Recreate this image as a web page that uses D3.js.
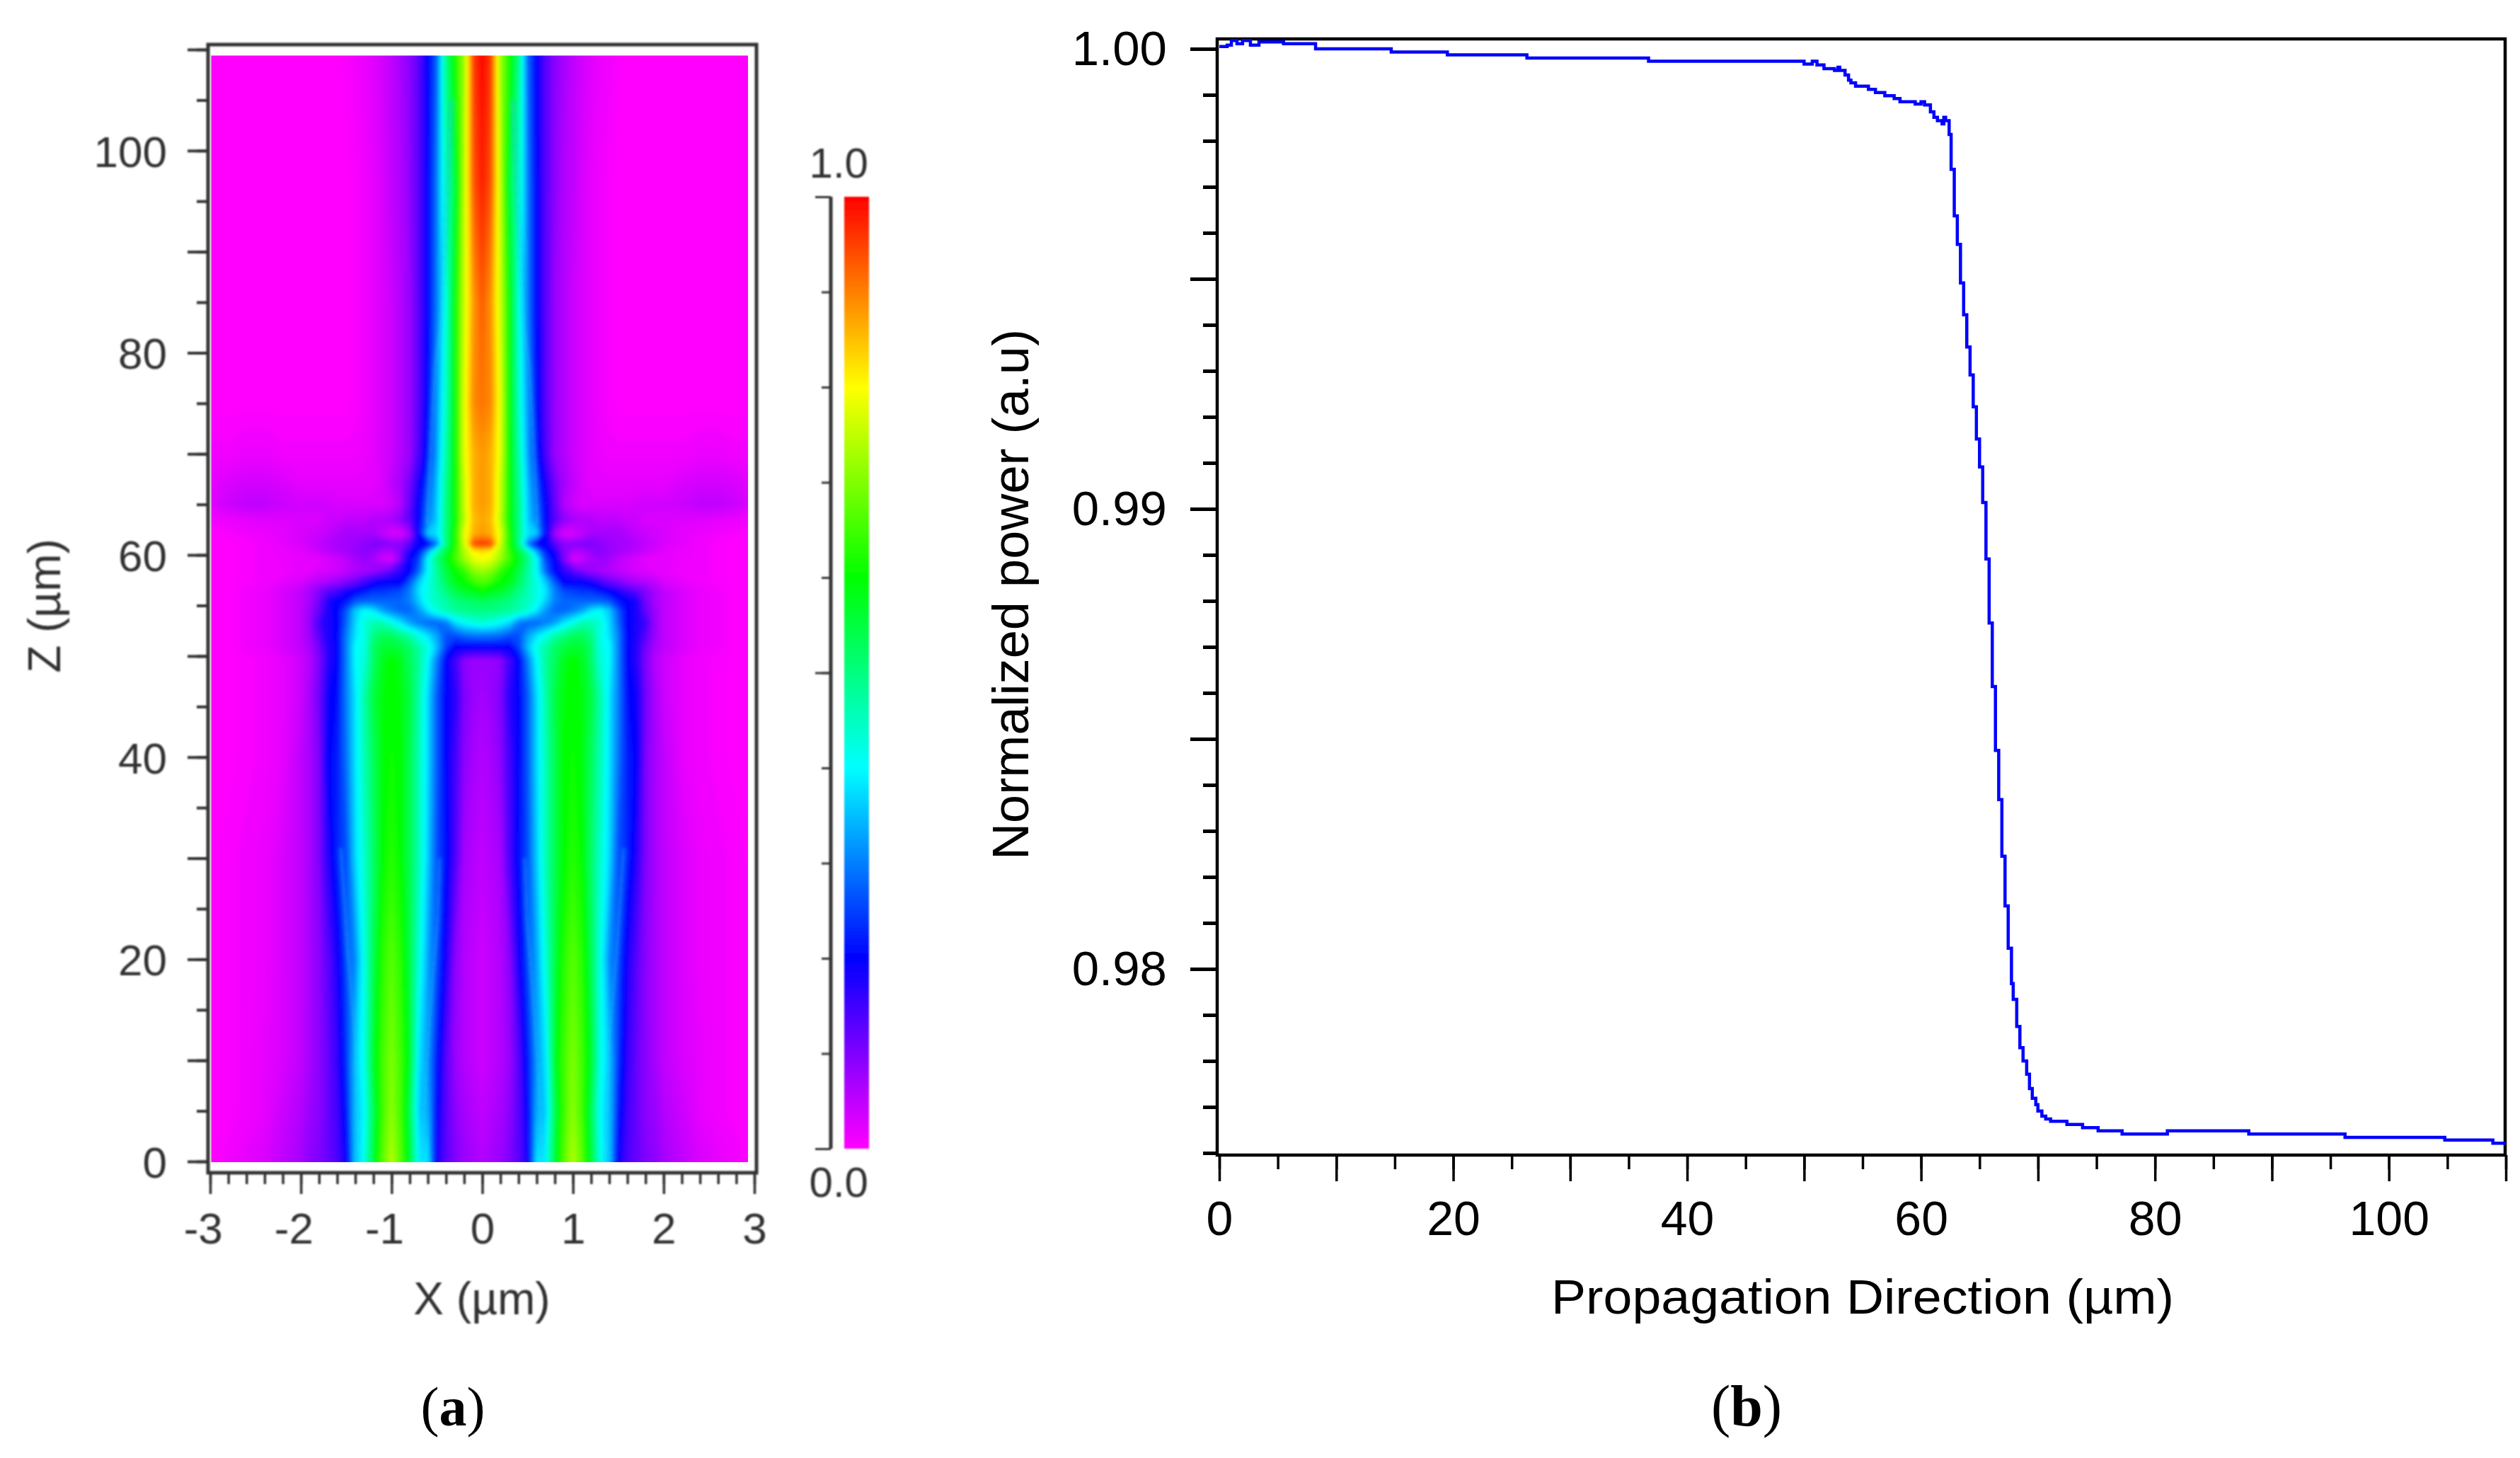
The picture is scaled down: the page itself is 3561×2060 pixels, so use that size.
<!DOCTYPE html>
<html>
<head>
<meta charset="utf-8">
<script src="https://cdn.jsdelivr.net/npm/d3@7"></script>
<style>
  body { margin: 0; background: #fff; }
  text { font-family: "Liberation Sans", Arial, sans-serif; }
  .caption { font-family: "Liberation Serif", serif; font-size: 78px; fill: #000; }
</style>
</head>
<body>
<svg width="3561" height="2060"></svg>
<script>
// panel (a): field, right half only (the picture is mirrored about x = 0)
const halfX = [0, .1, .2, .3, .4, .5, .6, .7, .8, .9, 1, 1.1, 1.2, 1.3, 1.4, 1.5, 1.6, 1.7, 1.8, 1.9, 2, 2.2, 2.4, 2.6, 2.8, 3]
const zLevels = [0, 5, 10, 20, 30, 40, 46, 49.6, 50.9, 52, 53.3, 54.5, 55.4, 56.4, 57.3, 58.4, 59.6, 60.3, 61.1, 62.1, 63.5, 65, 67, 70, 75, 85, 97, 110]
const fieldRows = [
  [.06,.07,.08,.10,.13,.18,.38,.40,.56,.67,.74,.67,.56,.42,.36,.19,.14,.12,.10,.09,.07,.05,.03,.02,.01,0],
  [.05,.06,.07,.09,.13,.20,.34,.36,.54,.65,.71,.65,.54,.40,.36,.22,.15,.12,.09,.08,.06,.04,.02,.01,.005,0],
  [.04,.05,.06,.08,.13,.22,.32,.38,.57,.65,.70,.65,.57,.42,.36,.24,.16,.12,.09,.07,.05,.03,.02,.01,.005,0],
  [.04,.05,.06,.09,.18,.26,.33,.43,.55,.63,.67,.63,.54,.42,.31,.26,.18,.13,.09,.07,.05,.03,.015,.01,.005,0],
  [.05,.06,.07,.14,.21,.26,.36,.46,.54,.60,.63,.60,.52,.44,.37,.26,.23,.17,.10,.07,.05,.03,.015,.01,.005,0],
  [.06,.07,.09,.15,.20,.27,.37,.46,.54,.60,.61,.59,.53,.46,.38,.29,.22,.20,.10,.07,.05,.02,.01,.005,0,0],
  [.07,.08,.10,.17,.20,.27,.37,.47,.55,.59,.60,.59,.55,.47,.38,.30,.21,.19,.11,.07,.04,.02,.01,.005,0,0],
  [.08,.08,.09,.15,.20,.30,.40,.48,.53,.58,.60,.58,.52,.43,.40,.30,.20,.17,.10,.06,.04,.02,.01,.005,0,0],
  [.20,.20,.20,.20,.25,.35,.42,.47,.52,.55,.56,.56,.52,.42,.40,.30,.20,.17,.11,.07,.05,.03,.015,.01,0,0],
  [.29,.29,.28,.26,.26,.33,.38,.42,.47,.50,.53,.53,.50,.42,.38,.30,.20,.18,.13,.08,.05,.03,.015,.01,0,0],
  [.43,.42,.40,.37,.30,.28,.28,.30,.33,.38,.42,.46,.46,.43,.37,.28,.20,.18,.15,.08,.05,.03,.015,.01,0,0],
  [.50,.50,.49,.48,.46,.43,.38,.32,.28,.28,.30,.33,.38,.40,.36,.27,.20,.18,.12,.08,.05,.03,.015,.01,0,0],
  [.53,.52,.51,.50,.47,.45,.42,.36,.30,.28,.28,.28,.28,.28,.27,.22,.20,.18,.11,.07,.05,.03,.015,.01,0,0],
  [.60,.58,.57,.54,.50,.46,.42,.38,.30,.26,.25,.24,.24,.22,.20,.18,.15,.13,.10,.07,.05,.03,.015,.01,0,0],
  [.66,.64,.60,.58,.53,.47,.42,.36,.27,.20,.20,.20,.18,.15,.12,.10,.08,.07,.06,.05,.03,.02,.01,.005,0,0],
  [.72,.70,.64,.60,.55,.48,.40,.28,.20,.17,.13,.10,.08,.07,.06,.05,.04,.03,.03,.02,.02,.01,.01,.005,0,0],
  [.80,.78,.72,.65,.58,.50,.40,.25,.20,.10,.03,.04,.07,.08,.07,.05,.04,.03,.02,.02,.02,.015,.01,.005,0,0],
  [.82,.80,.74,.64,.55,.46,.34,.22,.18,.10,.06,.06,.08,.09,.08,.07,.06,.05,.04,.03,.02,.015,.01,.005,0,0],
  [.96,.94,.76,.62,.50,.30,.20,.20,.13,.09,.09,.10,.10,.09,.08,.07,.07,.06,.05,.04,.03,.02,.01,.005,0,0],
  [.88,.86,.78,.62,.50,.38,.36,.20,.07,.03,.03,.05,.07,.07,.07,.07,.06,.05,.04,.035,.03,.02,.015,.01,.005,0],
  [.87,.85,.75,.60,.50,.36,.30,.20,.13,.09,.07,.06,.06,.05,.05,.05,.04,.04,.03,.03,.03,.025,.025,.02,.015,.01],
  [.88,.86,.76,.60,.50,.36,.28,.20,.12,.06,.04,.03,.03,.03,.03,.03,.03,.035,.035,.035,.035,.04,.05,.05,.04,.025],
  [.88,.86,.76,.60,.49,.35,.26,.18,.11,.07,.05,.03,.02,.02,.02,.02,.02,.02,.02,.02,.02,.03,.035,.035,.03,.02],
  [.88,.86,.78,.60,.47,.33,.22,.14,.08,.06,.04,.03,.02,.015,.01,.01,.01,.01,.01,.01,.01,.01,.015,.015,.01,.01],
  [.91,.89,.78,.60,.45,.32,.21,.13,.08,.06,.04,.03,.02,.01,.005,0,0,0,0,0,0,0,0,0,0,0],
  [.93,.88,.76,.60,.43,.30,.20,.13,.08,.06,.04,.03,.02,.01,.005,0,0,0,0,0,0,0,0,0,0,0],
  [.98,.93,.75,.55,.46,.30,.20,.13,.09,.06,.05,.03,.02,.01,.005,0,0,0,0,0,0,0,0,0,0,0],
  [1,.95,.72,.62,.50,.28,.20,.13,.09,.07,.05,.035,.025,.015,.01,.005,0,0,0,0,0,0,0,0,0,0]
]
// thin sidewall lines in the field, [z, |x|]
const sideLines = [
  [[0, .67], [9.3, .61], [18, .545], [24, .49], [30, .47]],
  [[0, 1.36], [12.8, 1.41], [21.5, 1.49], [31, 1.56]],
  [[63.1, .61], [72.2, .56], [78.7, .52], [82.2, .47], [95, .39], [105, .34]]
]
const rampStops = [0, .2, .4, .6, .8, 1]
const rampColors = ["#ff00ff", "#0000ff", "#00ffff", "#00ff00", "#ffff00", "#ff0000"]

// panel (b): stepped power curve
const lossX = [0, .67, 1.03, 1.51, 1.99, 2.66, 3.39, 5.49, 8.23, 14.7, 19.5, 26.3, 36.7, 50, 50.7, 51.1, 51.7, 52.6, 52.9, 53.05, 53.5, 53.8, 54, 54.4, 55.5, 56.1, 56.9, 57.7, 58.2, 59.5, 60, 60.3, 60.8, 61.1, 61.4, 61.8, 61.95, 62.1, 62.4, 62.57, 62.84, 63.1, 63.37, 63.64, 63.91, 64.19, 64.46, 64.73, 65, 65.27, 65.55, 65.82, 66.09, 66.36, 66.64, 66.91, 67.18, 67.45, 67.73, 67.88, 68.18, 68.45, 68.72, 69.03, 69.27, 69.51, 69.81, 69.99, 70.33, 70.66, 71.08, 72.47, 73.81, 75.14, 77.19, 81.06, 88.02, 96.25, 104.78, 108.89, 110]
const lossY = [1.00005, 1.00008, 1.00018, 1.00011, 1.00018, 1.00008, 1.00015, 1.00011, 1.0, .99993, .99987, .9998, .99973, .99967, .99973, .99965, .99957, .99953, .9996, .99953, .99943, .99932, .99926, .99919, .99912, .99905, .99898, .99892, .99885, .9988, .99885, .99878, .99863, .99851, .99844, .99837, .99851, .99844, .99814, .99738, .99637, .99575, .99491, .99422, .99352, .99291, .99222, .99152, .99091, .99014, .98891, .98752, .98614, .98475, .98368, .98245, .98137, .98045, .97968, .97934, .97875, .97829, .978, .97771, .9774, .97719, .97705, .97691, .9768, .97674, .97669, .97662, .97655, .97648, .97641, .97648, .97641, .97634, .97628, .97621, .97621]

const xFieldMajor = [-3, -2, -1, 0, 1, 2, 3]
const zLabels = [0, 20, 40, 60, 80, 100]
const powerLabels = [1, .99, .98]
const distLabels = [0, 20, 40, 60, 80, 100]

const svg = d3.select("svg")
const defs = svg.append("defs")

const soft = defs.append("filter").attr("id", "soft")
  .attr("filterUnits", "userSpaceOnUse")
  .attr("x", 0).attr("y", 0).attr("width", 3561).attr("height", 2060)
soft.append("feGaussianBlur").attr("stdDeviation", 1)

const heatBlur = defs.append("filter").attr("id", "heatBlur")
  .attr("filterUnits", "userSpaceOnUse")
  .attr("x", 0).attr("y", 0).attr("width", 3561).attr("height", 2060)
heatBlur.append("feGaussianBlur").attr("stdDeviation", 2.5)

// panel a
const x = d3.scaleLinear().domain([-3, 3]).range([297, 1066])
const z = d3.scaleLinear().domain([0, 110]).range([1641, 70])
const color = d3.scaleLinear().domain(rampStops).range(rampColors)

const columns = halfX.slice(1).map(d => -d).reverse().concat(halfX)
const values = []
fieldRows.forEach(row => {
  row.slice(1).reverse().concat(row).forEach(v => values.push(v))
})

// d3.contours puts sample i at i + .5, rows and columns are not evenly spaced
const colOf = d3.scaleLinear().domain(d3.range(columns.length)).range(columns)
const rowOf = d3.scaleLinear().domain(d3.range(zLevels.length)).range(zLevels)
const gridPath = d3.geoPath(d3.geoTransform({
  point: function(cx, cy) {
    this.stream.point(x(colOf(cx - .5)), z(rowOf(cy - .5)))
  }
}))

const levels = d3.range(.0025, 1, .005)
const contours = d3.contours()
  .size([columns.length, zLevels.length])
  .thresholds(levels)(values)

defs.append("clipPath").attr("id", "heatClip")
  .append("rect")
  .attr("x", 298.5).attr("y", 78.6)
  .attr("width", 1057 - 298.5).attr("height", 1642 - 78.6)

const heat = svg.append("g").attr("clip-path", "url(#heatClip)")
  .append("g").attr("filter", "url(#heatBlur)")

heat.append("rect")
  .attr("x", 270).attr("y", 50).attr("width", 820).attr("height", 1620)
  .attr("fill", color(0))

heat.selectAll("path.band").data(contours).enter().append("path")
  .attr("class", "band")
  .attr("d", gridPath)
  .attr("fill", d => color(d.value + .0025))

const sideLine = d3.line().x(d => x(d[1])).y(d => z(d[0]))
const sideLineL = d3.line().x(d => x(-d[1])).y(d => z(d[0]))
sideLines.forEach(l => {
  [sideLine, sideLineL].forEach(gen => {
    heat.append("path").attr("d", gen(l))
      .attr("fill", "none")
      .attr("stroke", "#18b0ff")
      .attr("stroke-opacity", .4)
      .attr("stroke-width", 5)
  })
})

const gridA = svg.append("g").attr("filter", "url(#soft)").attr("color", "#333")

gridA.append("rect")
  .attr("x", 294).attr("y", 63)
  .attr("width", 1069 - 294).attr("height", 1657 - 63)
  .attr("fill", "none").attr("stroke", "#333").attr("stroke-width", 5)

function styleAxis(g, size, color, width) {
  g.select(".domain").remove()
  g.selectAll(".tick line").attr("stroke", color).attr("stroke-width", width)
  g.selectAll("text")
    .attr("font-size", size)
    .attr("fill", color)
    .attr("font-family", '"Liberation Sans", Arial, sans-serif')
}

// x ticks sit under the frame, shift by the frame offset
const axXMinor = gridA.append("g").attr("transform", "translate(0,1657)")
  .call(d3.axisBottom(x).tickValues(d3.range(-3, 3.01, .2)).tickSize(16).tickFormat(""))
styleAxis(axXMinor, 62, "#333", 3.5)
const axXMajor = gridA.append("g").attr("transform", "translate(0,1657)")
  .call(d3.axisBottom(x).tickValues(xFieldMajor).tickSize(30).tickPadding(26).tickFormat(d3.format("d")))
styleAxis(axXMajor, 62, "#333", 3.5)
axXMajor.selectAll("text")
  .text(d => d < 0 ? "-" + Math.abs(d) : d)
  .attr("dx", d => d < 0 ? "-.166em" : 0)

const axZMinor = gridA.append("g").attr("transform", "translate(294,0)")
  .call(d3.axisLeft(z).tickValues(d3.range(0, 111, 5)).tickSize(16).tickFormat(""))
styleAxis(axZMinor, 62, "#333", 4)
const axZMajor = gridA.append("g").attr("transform", "translate(294,0)")
  .call(d3.axisLeft(z).tickValues(d3.range(0, 111, 10)).tickSize(29).tickPadding(29)
    .tickFormat(d => zLabels.includes(d) ? d : ""))
styleAxis(axZMajor, 62, "#333", 4)
axZMajor.selectAll("text").attr("dy", "0.36em")

gridA.append("text")
  .attr("transform", "translate(85,856) rotate(-90)")
  .attr("text-anchor", "middle")
  .attr("font-size", 64).attr("fill", "#333")
  .text("Z (µm)")

gridA.append("text")
  .attr("x", 681).attr("y", 1857)
  .attr("text-anchor", "middle")
  .attr("font-size", 64).attr("fill", "#333")
  .text("X (µm)")

// colour bar
const barScale = d3.scaleLinear().domain([0, 1]).range([1623, 278])
const grad = defs.append("linearGradient").attr("id", "ramp")
  .attr("x1", 0).attr("y1", 1).attr("x2", 0).attr("y2", 0)
grad.selectAll("stop").data(rampStops).enter().append("stop")
  .attr("offset", d => d)
  .attr("stop-color", d => color(d))

gridA.append("rect")
  .attr("x", 1193).attr("y", barScale(1))
  .attr("width", 35).attr("height", barScale(0) - barScale(1))
  .attr("fill", "url(#ramp)")

const axBarMinor = gridA.append("g").attr("transform", "translate(1174,0)")
  .call(d3.axisLeft(barScale).tickValues(d3.range(0, 1.01, .1)).tickSize(13).tickFormat(""))
styleAxis(axBarMinor, 60, "#333", 3)
const axBarMajor = gridA.append("g").attr("transform", "translate(1174,0)")
  .call(d3.axisLeft(barScale).tickValues([0, .5, 1]).tickSize(22).tickFormat(""))
styleAxis(axBarMajor, 60, "#333", 3)
gridA.append("line")
  .attr("x1", 1174).attr("x2", 1174)
  .attr("y1", barScale(1)).attr("y2", barScale(0))
  .attr("stroke", "#333").attr("stroke-width", 5)

gridA.append("text").attr("x", 1227).attr("y", 251)
  .attr("text-anchor", "end").attr("font-size", 60).attr("fill", "#333").text("1.0")
gridA.append("text").attr("x", 1227).attr("y", 1691)
  .attr("text-anchor", "end").attr("font-size", 60).attr("fill", "#333").text("0.0")

svg.append("text").attr("class", "caption")
  .attr("x", 640).attr("y", 2014).attr("text-anchor", "middle")
  .html('(<tspan font-weight="bold">a</tspan>)')

// panel b
const dist = d3.scaleLinear().domain([0, 110]).range([1723, 3541])
const power = d3.scaleLinear().domain([.976, 1]).range([1629, 69])

const gb = svg.append("g")

const axDistMinor = gb.append("g").attr("transform", "translate(0,1632)")
  .call(d3.axisBottom(dist).tickValues(d3.range(0, 111, 5)).tickSize(20).tickFormat(""))
styleAxis(axDistMinor, 68, "#000", 3.5)
const axDistMajor = gb.append("g").attr("transform", "translate(0,1632)")
  .call(d3.axisBottom(dist).tickValues(d3.range(0, 111, 10)).tickSize(37).tickPadding(28)
    .tickFormat(d => distLabels.includes(d) ? d : ""))
styleAxis(axDistMajor, 68, "#000", 3.5)

const axPowerMinor = gb.append("g").attr("transform", "translate(1720,0)")
  .call(d3.axisLeft(power).tickValues(d3.range(24, -1, -1).map(i => 1 - i * .001)).tickSize(20).tickFormat(""))
styleAxis(axPowerMinor, 69, "#000", 5)
const axPowerMajor = gb.append("g").attr("transform", "translate(1720,0)")
  .call(d3.axisLeft(power).tickValues([1, .995, .99, .985, .98]).tickSize(38).tickPadding(33)
    .tickFormat(d => powerLabels.includes(d) ? d3.format(".2f")(d) : ""))
styleAxis(axPowerMajor, 69, "#000", 5)

gb.append("path")
  .attr("d", "M1720,55H3540V1632H1720Z")
  .attr("fill", "none").attr("stroke", "#000").attr("stroke-width", 4.5)

const lossLine = d3.line()
  .x((d, i) => dist(lossX[i]))
  .y(d => power(d))
  .curve(d3.curveStepAfter)

gb.append("path")
  .attr("d", lossLine(lossY))
  .attr("fill", "none")
  .attr("stroke", "#0000ff")
  .attr("stroke-width", 4.5)

gb.append("text")
  .attr("x", 2632).attr("y", 1856)
  .attr("text-anchor", "middle")
  .attr("font-size", 69)
  .attr("textLength", 880).attr("lengthAdjust", "spacingAndGlyphs")
  .text("Propagation Direction (µm)")

gb.append("text")
  .attr("transform", "translate(1453,840) rotate(-90)")
  .attr("text-anchor", "middle")
  .attr("font-size", 72)
  .attr("textLength", 750).attr("lengthAdjust", "spacingAndGlyphs")
  .text("Normalized power (a.u)")

svg.append("text").attr("class", "caption")
  .attr("x", 2468).attr("y", 2014).attr("text-anchor", "middle")
  .style("font-size", "82px")
  .html('(<tspan font-weight="bold">b</tspan>)')
</script>
</body>
</html>
